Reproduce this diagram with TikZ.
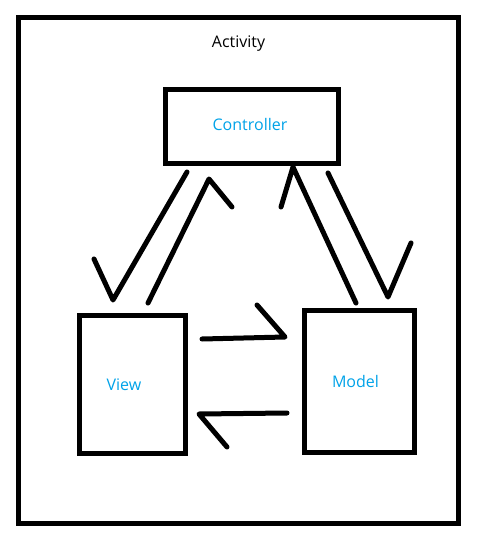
\documentclass[tikz,border=0pt]{standalone}
\usepackage{fontspec}
\setmainfont{Open Sans}
\usetikzlibrary{shapes,arrows}
\definecolor{paintblue}{RGB}{0,162,232}

\begin{document}
\begin{tikzpicture}[x=1pt, y=-1pt]
\tikzstyle{box} = [draw, line width=5pt, shape=rectangle, inner sep=0pt]
\tikzstyle{label} = [inner sep=0pt, anchor=base, font=\fontsize{16}{19}\selectfont]
\tikzstyle{stroke} = [line width=5pt, line cap=round, line join=round]
\useasboundingbox (0,0) rectangle (486,538);

\node [box, minimum width=440pt, minimum height=505.5pt] (activity) at (238.5, 270.25) {};
\node [label] (activitytext) at (238.5, 47) {Activity};

\node [box, minimum width=172.5pt, minimum height=73.5pt] (controller) at (251.75, 126.25) {};
\node [label, text=paintblue] (controllertext) at (250, 130) {Controller};
\node [box, minimum width=105.5pt, minimum height=138pt] (view) at (132.25, 384.5) {};
\node [label, text=paintblue] (viewtext) at (124, 390) {View};
\node [box, minimum width=110.5pt, minimum height=142pt] (model) at (359.25, 381.5) {};
\node [label, text=paintblue] (modeltext) at (355.5, 387) {Model};

% controller -> view
\coordinate (cv1) at (187, 172);
\coordinate (cv2) at (113, 300);
\coordinate (cv3) at (94, 259);
\draw [stroke] (cv1) -- (cv2) -- (cv3);
% view -> controller
\coordinate (vc1) at (148, 303);
\coordinate (vc2) at (209, 179);
\coordinate (vc3) at (232, 207);
\draw [stroke] (vc1) -- (vc2) -- (vc3);

% model -> controller
\coordinate (mc1) at (356, 303);
\coordinate (mc2) at (293, 167);
\coordinate (mc3) at (281, 207);
\draw [stroke] (mc1) -- (mc2) -- (mc3);
% controller -> model
\coordinate (cm1) at (328, 173);
\coordinate (cm2) at (388, 297);
\coordinate (cm3) at (411, 243);
\draw [stroke] (cm1) -- (cm2) -- (cm3);

% view -> model
\coordinate (vm1) at (202, 339);
\coordinate (vm2) at (285, 337);
\coordinate (vm3) at (257, 305);
\draw [stroke] (vm1) -- (vm2) -- (vm3);
% model -> view
\coordinate (mv1) at (287, 413);
\coordinate (mv2) at (199, 414);
\coordinate (mv3) at (227, 447);
\draw [stroke] (mv1) -- (mv2) -- (mv3);
\end{tikzpicture}
\end{document}
